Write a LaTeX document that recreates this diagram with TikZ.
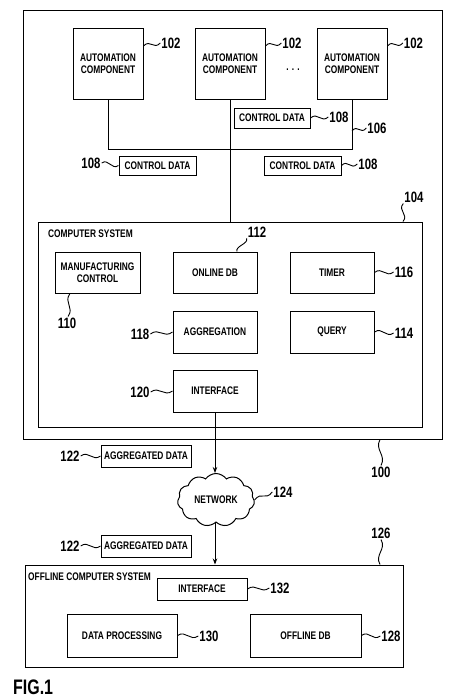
\documentclass[tikz,border=0pt]{standalone}
\usepackage{fontspec}
\setmainfont{Liberation Sans}[FakeStretch=0.76]
\usetikzlibrary{calc,arrows.meta,shapes.symbols}
\newcommand{\boxf}{\fontsize{11}{12.5}\selectfont\bfseries}
\newcommand{\lblf}{\fontsize{15}{16}\selectfont\bfseries}
\newcommand{\sqh}[2]{\draw[conn] (#1) .. controls ($(#1)!0.4!(#2)+(0,-6)$) and ($(#1)!0.6!(#2)+(0,6)$) .. (#2);}
\newcommand{\sqv}[2]{\draw[conn] (#1) .. controls ($(#1)!0.4!(#2)+(-6,0)$) and ($(#1)!0.6!(#2)+(6,0)$) .. (#2);}
\tikzset{
  bx/.style={draw, line width=1pt, align=center, font=\boxf, inner sep=0pt},
  lbl/.style={font=\lblf, inner sep=1pt},
  conn/.style={line width=0.9pt},
  arr/.style={line width=1pt, -{Stealth[length=6pt,width=4.5pt]}},
}
\begin{document}
\begin{tikzpicture}[x=1pt,y=-1pt]
\useasboundingbox (0,0) rectangle (474,699);
% outer system 100
\node[bx, minimum width=419, minimum height=429] (outer) at (232.5,224.5) {};
% automation components
\node[bx, minimum width=70, minimum height=71] (ac1) at (108,63.5) {AUTOMATION\\COMPONENT};
\node[bx, minimum width=70, minimum height=71] (ac2) at (230,63.5) {AUTOMATION\\COMPONENT};
\node[bx, minimum width=70, minimum height=71] (ac3) at (352,63.5) {AUTOMATION\\COMPONENT};
\node[lbl] (l102a) at (171,43) {102};
\node[lbl] (l102b) at (292,43) {102};
\node[lbl] (l102c) at (413.5,43) {102};
\sqh{ac1.east |- 0,46}{l102a.west}
\sqh{ac2.east |- 0,46}{l102b.west}
\sqh{ac3.east |- 0,46}{l102c.west}
\node[font=\boxf] (dots) at (293,70) {. . .};
% computer system 104
\node[bx, minimum width=384, minimum height=205] (cs) at (230,324.5) {};
\node[font=\boxf, anchor=west, inner sep=0pt] (cstitle) at (48,234) {COMPUTER SYSTEM};
\node[lbl] (l104) at (414,197) {104};
\sqv{l104.south west}{cs.north -| 403,0}
% bus 106
\draw[conn] (ac1.south) -- ++(0,50) -| (ac3.south);
\coordinate (b106) at (352,131);
\node[lbl] (l106) at (377,128) {106};
\sqh{b106}{l106.west}
\draw[conn] (ac2.south) -- (ac2.south |- cs.north);
% control data
\node[bx, minimum width=76, minimum height=20] (cd1) at (272,118) {CONTROL DATA};
\node[lbl] (l108a) at (339,117) {108};
\sqh{cd1.east}{l108a.west}
\node[bx, minimum width=77, minimum height=19] (cd2) at (157.5,165.5) {CONTROL DATA};
\node[lbl] (l108b) at (91,163) {108};
\sqh{l108b.east}{cd2.west}
\node[bx, minimum width=77, minimum height=19] (cd3) at (302.5,165.5) {CONTROL DATA};
\node[lbl] (l108c) at (368,164) {108};
\sqh{cd3.east}{l108c.west}
% inner blocks
\node[bx, minimum width=85, minimum height=41] (mc) at (97.5,272.5) {MANUFACTURING\\CONTROL};
\node[lbl] (l110) at (67,323) {110};
\sqv{mc.south -| 70,0}{l110.north -| 68,0}
\node[bx, minimum width=84, minimum height=41] (odb) at (215,272.5) {ONLINE DB};
\node[lbl] (l112) at (257,232) {112};
\sqv{odb.north -| 237,0}{l112.south west}
\node[bx, minimum width=84, minimum height=41] (timer) at (332,272.5) {TIMER};
\node[lbl] (l116) at (404,272) {116};
\sqh{timer.east}{l116.west}
\node[bx, minimum width=84, minimum height=42] (agg) at (215,332) {AGGREGATION};
\node[lbl] (l118) at (140,334) {118};
\sqh{l118.east}{agg.west}
\node[bx, minimum width=84, minimum height=42] (query) at (332,332) {QUERY};
\node[lbl] (l114) at (404,333) {114};
\sqh{query.east}{l114.west}
\node[bx, minimum width=84, minimum height=42] (intf) at (215,391) {INTERFACE};
\node[lbl] (l120) at (140,392) {120};
\sqh{l120.east}{intf.west}
% label 100
\node[lbl] (l100) at (381,472) {100};
\sqv{outer.south -| 380,0}{l100.north}
% network
\node[cloud, draw, line width=1pt, cloud puffs=11, cloud puff arc=110, aspect=1.45, minimum width=77, minimum height=53, inner sep=0pt, font=\boxf] (net) at (216,500) {NETWORK};
\node[lbl] (l124) at (283,492) {124};
\sqh{net.east}{l124.west}
\draw[arr] (intf.south) -- (net.north -| intf.south);
% aggregated data
\node[bx, minimum width=90, minimum height=22] (ad1) at (146,456) {AGGREGATED DATA};
\node[lbl] (l122a) at (70,456) {122};
\sqh{l122a.east}{ad1.west}
\node[bx, minimum width=90, minimum height=22] (ad2) at (146,546) {AGGREGATED DATA};
\node[lbl] (l122b) at (70,546) {122};
\sqh{l122b.east}{ad2.west}
% offline computer system
\node[bx, minimum width=378, minimum height=102] (ocs) at (214,616) {};
\draw[arr] (net.south -| intf.south) -- (ocs.north -| intf.south);
\node[font=\boxf, anchor=west, inner sep=0pt] (ocstitle) at (28,577) {OFFLINE COMPUTER SYSTEM};
\node[lbl] (l126) at (381,533) {126};
\sqv{ocs.north -| 380,0}{l126.south}
\node[bx, minimum width=90, minimum height=22] (oif) at (202,589) {INTERFACE};
\node[lbl] (l132) at (280,588) {132};
\sqh{oif.east}{l132.west}
\node[bx, minimum width=110, minimum height=43] (dp) at (122,635.5) {DATA PROCESSING};
\node[lbl] (l130) at (209,636) {130};
\sqh{dp.east}{l130.west}
\node[bx, minimum width=111, minimum height=43] (odb2) at (305.5,635.5) {OFFLINE DB};
\node[lbl] (l128) at (391,636) {128};
\sqh{odb2.east}{l128.west}
% figure caption
\node[font=\fontsize{21}{22}\selectfont\bfseries, anchor=west, inner sep=0pt] (fig) at (13,687) {FIG.1};
\end{tikzpicture}
\end{document}
